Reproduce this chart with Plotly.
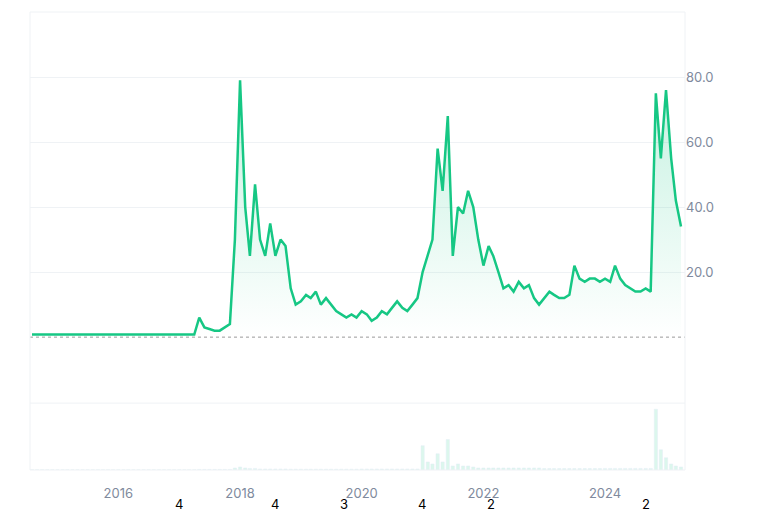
import plotly.graph_objects as go
import pandas as pd

start = "2014-08-01"
price = [0.8]*33 + [
    6, 3, 2.5, 2, 2, 3, 4, 30,           # 2017-05..2017-12
    79, 40, 25, 47, 30, 25, 35, 25, 30, 28, 15, 10,   # 2018
    11, 13, 12, 14, 10, 12, 10, 8, 7, 6, 7, 6,        # 2019
    8, 7, 5, 6, 8, 7, 9, 11, 9, 8, 10, 12,            # 2020
    20, 25, 30, 58, 45, 68, 25, 40, 38, 45, 40, 30,   # 2021
    22, 28, 25, 20, 15, 16, 14, 17, 15, 16, 12, 10,   # 2022
    12, 14, 13, 12, 12, 13, 22, 18, 17, 18, 18, 17,   # 2023
    18, 17, 22, 18, 16, 15, 14, 14, 15, 14, 75, 55,   # 2024
    76, 55, 42, 34]                                   # 2025
dates = pd.date_range(start, periods=len(price), freq="MS")
volume = [0.1]*33 + [0.3]*7 + [1] + [1.5, 1, 0.8, 0.8, 0.5, 0.5, 0.5, 0.5, 0.5, 0.5, 0.4, 0.4] + [0.4]*12 + [0.5]*12 + \
    [12, 4, 3, 8, 4, 15, 2, 3, 2, 2, 1.5, 1] + [1]*12 + [0.7]*12 + [0.8]*10 + [30, 10] + [6, 3, 2, 1.5]
tick_vals = [20, 40, 60, 80]
tick_text = ["20.0", "40.0", "60.0", "80.0"]
notes = [("4", 173), ("4", 275), ("3", 344), ("4", 422), ("2", 497), ("2", 652)]

green = "#16c784"
fig = go.Figure()
fig.add_trace(go.Scatter(x=dates, y=price, mode="lines", line=dict(color=green, width=2.5),
                         fill="tozeroy",
                         fillgradient=dict(type="vertical",
                                           colorscale=[[0, "rgba(22,199,132,0.0)"], [1, "rgba(22,199,132,0.25)"]]),
                         xaxis="x", yaxis="y", showlegend=False))
fig.add_trace(go.Bar(x=dates, y=volume, marker_color="rgba(22,199,132,0.15)", xaxis="x", yaxis="y2", showlegend=False))
fig.add_hline(y=0, line=dict(color="#999", width=1, dash="dot"), yref="y")

fig.update_layout(
    width=768, height=512, margin=dict(l=22, r=91, t=4, b=50),
    plot_bgcolor="white", paper_bgcolor="white", bargap=0.3,
    font=dict(family="Inter", color="#808a9d", size=13),
    xaxis=dict(anchor="y2", range=["2014-07-20", "2025-04-25"], showgrid=False, tickformat="%Y",
               tickvals=["2016-01-01", "2018-01-01", "2020-01-01", "2022-01-01", "2024-01-01"],
               ticks="", showline=False, zeroline=False, ticklabelstandoff=14),
    yaxis=dict(domain=[0.146, 1], range=[-20.3, 100], side="right", tickvals=tick_vals, ticktext=tick_text,
               gridcolor="#eff2f5", zeroline=False, showline=False),
    yaxis2=dict(domain=[0, 0.146], range=[0, 33], showticklabels=False, showgrid=False, zeroline=False),
)
fig.add_shape(type="rect", xref="paper", yref="paper", x0=0, x1=1, y0=0, y1=1, line=dict(color="#eff2f5", width=1))
fig.add_shape(type="line", xref="paper", yref="paper", x0=0, x1=1, y0=0.146, y1=0.146, line=dict(color="#eff2f5", width=1))
for t, px in notes:
    fig.add_annotation(text=t, x=(px - 30) / 655, xref="paper", y=-0.097, yref="paper", showarrow=False,
                       font=dict(color="black", size=13))
fig.write_html("out.html")
